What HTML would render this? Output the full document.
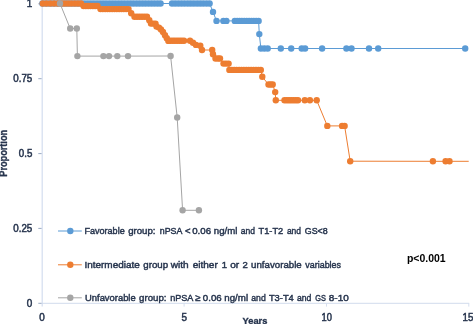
<!DOCTYPE html>
<html><head><meta charset="utf-8"><title>Kaplan-Meier</title>
<style>html,body{margin:0;padding:0;background:#fff}body{width:473px;height:324px;overflow:hidden}</style></head>
<body>
<svg width="473" height="324" viewBox="0 0 473 324" style="display:block" font-family="'Liberation Sans', Arial, sans-serif">
<rect width="473" height="324" fill="#fff"/>
<path d="M42.2 0V306.6" stroke="#d3ddef" stroke-width="1.2" fill="none"/>
<path d="M42 303.3H469.2" stroke="#ccd7ea" stroke-width="0.9" fill="none"/>
<g stroke="#8fa0bb" stroke-width="0.9" fill="none">
<path d="M38.3 3.8H41.6"/>
<path d="M38.3 78.7H41.6"/>
<path d="M38.3 153.6H41.6"/>
<path d="M38.3 228.4H41.6"/>
<path d="M38.3 303.3H41.6"/>
</g>
<g stroke="#d5deee" stroke-width="1" fill="none">
<path d="M184.1 303.3V306.6"/>
<path d="M326.5 303.3V306.6"/>
<path d="M468.8 303.3V306.6"/>
</g>
<g fill="#27354e" stroke="#27354e" stroke-width="0.5" font-size="10.0" text-anchor="end">
<text x="32.3" y="7.1" textLength="5.5" lengthAdjust="spacingAndGlyphs">1</text>
<text x="32.3" y="82.0" textLength="19.0" lengthAdjust="spacingAndGlyphs">0.75</text>
<text x="32.3" y="156.9" textLength="13.5" lengthAdjust="spacingAndGlyphs">0.5</text>
<text x="32.3" y="231.7" textLength="19.0" lengthAdjust="spacingAndGlyphs">0.25</text>
<text x="32.3" y="306.6" textLength="5.5" lengthAdjust="spacingAndGlyphs">0</text>
</g>
<g fill="#27354e" stroke="#27354e" stroke-width="0.5" font-size="10.0" text-anchor="middle">
<text x="42.0" y="320.5" textLength="5.5" lengthAdjust="spacingAndGlyphs">0</text>
<text x="184.3" y="320.5" textLength="5.5" lengthAdjust="spacingAndGlyphs">5</text>
<text x="326.7" y="320.5" textLength="10.4" lengthAdjust="spacingAndGlyphs">10</text>
<text x="468.0" y="320.5" textLength="10.8" lengthAdjust="spacingAndGlyphs">15</text>
</g>
<text x="242.6" y="323.7" font-size="9.9" font-weight="bold" stroke="#27354e" stroke-width="0.35" fill="#27354e" textLength="24.8" lengthAdjust="spacingAndGlyphs">Years</text>
<text transform="translate(7.3 176.7) rotate(-90)" font-size="10.4" font-weight="bold" stroke="#27354e" stroke-width="0.35" fill="#27354e" textLength="46.8" lengthAdjust="spacingAndGlyphs">Proportion</text>
<polyline fill="none" stroke="#5b9bd5" stroke-width="1.00" stroke-linejoin="round" points="42.4,3.5 45.4,3.5 48.5,3.5 51.5,3.5 54.5,3.5 57.6,3.5 60.6,3.5 63.6,3.5 66.6,3.5 69.7,3.5 72.7,3.5 75.7,3.5 78.8,3.5 81.8,3.5 84.8,3.5 87.9,3.5 90.9,3.5 93.9,3.5 97.0,3.5 100.0,3.5 103.0,3.5 106.0,3.5 109.1,3.5 112.1,3.5 115.1,3.5 118.2,3.5 121.2,3.5 124.2,3.5 127.3,3.5 130.3,3.5 133.3,3.5 136.4,3.5 139.4,3.5 142.4,3.5 145.4,3.5 148.5,3.5 151.5,3.5 154.5,3.5 157.6,3.5 160.6,3.5 172.0,3.5 175.1,3.5 178.3,3.5 181.4,3.5 184.5,3.5 187.7,3.5 190.8,3.5 193.9,3.5 197.1,3.5 200.2,3.5 203.3,3.5 206.5,3.5 209.6,3.5 213.0,11.9 216.5,20.9 223.4,20.9 226.4,20.9 234.8,20.9 237.2,20.9 239.6,20.9 241.9,20.9 244.3,20.9 246.7,20.9 249.1,20.9 251.5,20.9 253.8,20.9 256.2,20.9 258.6,20.9 259.3,34.1 260.9,48.5 264.3,48.5 267.7,48.5 280.8,48.5 291.2,48.5 301.7,48.5 305.1,48.5 322.1,48.5 346.4,48.5 351.5,48.5 369.0,48.5 378.2,48.5 465.2,48.5"/>
<g fill="#5b9bd5"><circle cx="42.4" cy="3.5" r="3.2"/><circle cx="45.4" cy="3.5" r="3.2"/><circle cx="48.5" cy="3.5" r="3.2"/><circle cx="51.5" cy="3.5" r="3.2"/><circle cx="54.5" cy="3.5" r="3.2"/><circle cx="57.6" cy="3.5" r="3.2"/><circle cx="60.6" cy="3.5" r="3.2"/><circle cx="63.6" cy="3.5" r="3.2"/><circle cx="66.6" cy="3.5" r="3.2"/><circle cx="69.7" cy="3.5" r="3.2"/><circle cx="72.7" cy="3.5" r="3.2"/><circle cx="75.7" cy="3.5" r="3.2"/><circle cx="78.8" cy="3.5" r="3.2"/><circle cx="81.8" cy="3.5" r="3.2"/><circle cx="84.8" cy="3.5" r="3.2"/><circle cx="87.9" cy="3.5" r="3.2"/><circle cx="90.9" cy="3.5" r="3.2"/><circle cx="93.9" cy="3.5" r="3.2"/><circle cx="97.0" cy="3.5" r="3.2"/><circle cx="100.0" cy="3.5" r="3.2"/><circle cx="103.0" cy="3.5" r="3.2"/><circle cx="106.0" cy="3.5" r="3.2"/><circle cx="109.1" cy="3.5" r="3.2"/><circle cx="112.1" cy="3.5" r="3.2"/><circle cx="115.1" cy="3.5" r="3.2"/><circle cx="118.2" cy="3.5" r="3.2"/><circle cx="121.2" cy="3.5" r="3.2"/><circle cx="124.2" cy="3.5" r="3.2"/><circle cx="127.3" cy="3.5" r="3.2"/><circle cx="130.3" cy="3.5" r="3.2"/><circle cx="133.3" cy="3.5" r="3.2"/><circle cx="136.4" cy="3.5" r="3.2"/><circle cx="139.4" cy="3.5" r="3.2"/><circle cx="142.4" cy="3.5" r="3.2"/><circle cx="145.4" cy="3.5" r="3.2"/><circle cx="148.5" cy="3.5" r="3.2"/><circle cx="151.5" cy="3.5" r="3.2"/><circle cx="154.5" cy="3.5" r="3.2"/><circle cx="157.6" cy="3.5" r="3.2"/><circle cx="160.6" cy="3.5" r="3.2"/><circle cx="172.0" cy="3.5" r="3.2"/><circle cx="175.1" cy="3.5" r="3.2"/><circle cx="178.3" cy="3.5" r="3.2"/><circle cx="181.4" cy="3.5" r="3.2"/><circle cx="184.5" cy="3.5" r="3.2"/><circle cx="187.7" cy="3.5" r="3.2"/><circle cx="190.8" cy="3.5" r="3.2"/><circle cx="193.9" cy="3.5" r="3.2"/><circle cx="197.1" cy="3.5" r="3.2"/><circle cx="200.2" cy="3.5" r="3.2"/><circle cx="203.3" cy="3.5" r="3.2"/><circle cx="206.5" cy="3.5" r="3.2"/><circle cx="209.6" cy="3.5" r="3.2"/><circle cx="213.0" cy="11.9" r="3.2"/><circle cx="216.5" cy="20.9" r="3.2"/><circle cx="223.4" cy="20.9" r="3.2"/><circle cx="226.4" cy="20.9" r="3.2"/><circle cx="234.8" cy="20.9" r="3.2"/><circle cx="237.2" cy="20.9" r="3.2"/><circle cx="239.6" cy="20.9" r="3.2"/><circle cx="241.9" cy="20.9" r="3.2"/><circle cx="244.3" cy="20.9" r="3.2"/><circle cx="246.7" cy="20.9" r="3.2"/><circle cx="249.1" cy="20.9" r="3.2"/><circle cx="251.5" cy="20.9" r="3.2"/><circle cx="253.8" cy="20.9" r="3.2"/><circle cx="256.2" cy="20.9" r="3.2"/><circle cx="258.6" cy="20.9" r="3.2"/><circle cx="259.3" cy="34.1" r="3.2"/><circle cx="260.9" cy="48.5" r="3.2"/><circle cx="264.3" cy="48.5" r="3.2"/><circle cx="267.7" cy="48.5" r="3.2"/><circle cx="280.8" cy="48.5" r="3.2"/><circle cx="291.2" cy="48.5" r="3.2"/><circle cx="301.7" cy="48.5" r="3.2"/><circle cx="305.1" cy="48.5" r="3.2"/><circle cx="322.1" cy="48.5" r="3.2"/><circle cx="346.4" cy="48.5" r="3.2"/><circle cx="351.5" cy="48.5" r="3.2"/><circle cx="369.0" cy="48.5" r="3.2"/><circle cx="378.2" cy="48.5" r="3.2"/><circle cx="465.2" cy="48.5" r="3.2"/></g>
<polyline fill="none" stroke="#ed7d31" stroke-width="1.00" stroke-linejoin="round" points="42.8,3.5 46.5,3.5 50.3,3.5 54.0,3.5 57.8,3.5 61.5,3.5 64.8,3.5 68.0,3.5 71.2,3.5 74.5,3.5 77.8,3.5 81.0,3.5 83.6,6.0 85.9,6.0 88.2,6.0 90.5,6.0 92.9,6.0 95.2,6.0 97.5,6.0 100.5,9.1 102.8,9.1 105.2,9.1 107.5,9.1 109.8,9.1 112.2,9.1 114.5,9.1 116.8,9.1 119.2,9.1 121.5,9.1 123.8,9.1 126.2,9.1 128.5,9.1 131.2,13.2 134.5,16.7 137.0,16.7 139.5,16.7 142.0,16.7 144.5,16.7 147.0,16.7 149.3,20.3 151.0,23.6 153.2,23.6 155.5,23.6 156.5,26.6 159.0,27.6 161.0,29.5 163.0,32.0 165.0,35.2 166.8,38.3 168.4,40.9 170.4,40.7 172.7,40.7 174.9,40.7 177.2,40.7 179.5,40.7 181.7,40.7 184.0,40.7 190.0,40.7 193.0,42.8 196.0,44.9 200.3,45.7 202.0,50.0 212.2,50.0 213.0,54.2 215.5,58.5 218.0,58.5 220.0,58.5 223.5,63.6 226.0,63.6 228.6,63.6 229.4,69.9 231.8,69.9 234.2,69.9 236.6,69.9 239.1,69.9 241.5,69.9 243.9,69.9 246.3,69.9 248.7,69.9 251.1,69.9 253.6,69.9 256.0,69.9 258.4,69.9 260.8,69.9 262.3,76.8 268.5,84.5 270.6,84.5 272.7,84.5 275.2,92.1 275.8,100.3 284.5,100.3 286.8,100.3 289.0,100.3 291.2,100.3 293.5,100.3 295.8,100.3 298.0,100.3 304.8,100.3 309.9,100.3 316.7,100.3 327.3,125.9 342.1,125.9 344.6,125.9 350.2,161.2 432.9,161.3 445.6,161.3 449.5,161.3 468.7,161.3"/>
<g fill="#ed7d31"><circle cx="42.8" cy="3.5" r="3.2"/><circle cx="46.5" cy="3.5" r="3.2"/><circle cx="50.3" cy="3.5" r="3.2"/><circle cx="54.0" cy="3.5" r="3.2"/><circle cx="57.8" cy="3.5" r="3.2"/><circle cx="61.5" cy="3.5" r="3.2"/><circle cx="64.8" cy="3.5" r="3.2"/><circle cx="68.0" cy="3.5" r="3.2"/><circle cx="71.2" cy="3.5" r="3.2"/><circle cx="74.5" cy="3.5" r="3.2"/><circle cx="77.8" cy="3.5" r="3.2"/><circle cx="81.0" cy="3.5" r="3.2"/><circle cx="83.6" cy="6.0" r="3.2"/><circle cx="85.9" cy="6.0" r="3.2"/><circle cx="88.2" cy="6.0" r="3.2"/><circle cx="90.5" cy="6.0" r="3.2"/><circle cx="92.9" cy="6.0" r="3.2"/><circle cx="95.2" cy="6.0" r="3.2"/><circle cx="97.5" cy="6.0" r="3.2"/><circle cx="100.5" cy="9.1" r="3.2"/><circle cx="102.8" cy="9.1" r="3.2"/><circle cx="105.2" cy="9.1" r="3.2"/><circle cx="107.5" cy="9.1" r="3.2"/><circle cx="109.8" cy="9.1" r="3.2"/><circle cx="112.2" cy="9.1" r="3.2"/><circle cx="114.5" cy="9.1" r="3.2"/><circle cx="116.8" cy="9.1" r="3.2"/><circle cx="119.2" cy="9.1" r="3.2"/><circle cx="121.5" cy="9.1" r="3.2"/><circle cx="123.8" cy="9.1" r="3.2"/><circle cx="126.2" cy="9.1" r="3.2"/><circle cx="128.5" cy="9.1" r="3.2"/><circle cx="131.2" cy="13.2" r="3.2"/><circle cx="134.5" cy="16.7" r="3.2"/><circle cx="137.0" cy="16.7" r="3.2"/><circle cx="139.5" cy="16.7" r="3.2"/><circle cx="142.0" cy="16.7" r="3.2"/><circle cx="144.5" cy="16.7" r="3.2"/><circle cx="147.0" cy="16.7" r="3.2"/><circle cx="149.3" cy="20.3" r="3.2"/><circle cx="151.0" cy="23.6" r="3.2"/><circle cx="153.2" cy="23.6" r="3.2"/><circle cx="155.5" cy="23.6" r="3.2"/><circle cx="156.5" cy="26.6" r="3.2"/><circle cx="159.0" cy="27.6" r="3.2"/><circle cx="161.0" cy="29.5" r="3.2"/><circle cx="163.0" cy="32.0" r="3.2"/><circle cx="165.0" cy="35.2" r="3.2"/><circle cx="166.8" cy="38.3" r="3.2"/><circle cx="168.4" cy="40.9" r="3.2"/><circle cx="170.4" cy="40.7" r="3.2"/><circle cx="172.7" cy="40.7" r="3.2"/><circle cx="174.9" cy="40.7" r="3.2"/><circle cx="177.2" cy="40.7" r="3.2"/><circle cx="179.5" cy="40.7" r="3.2"/><circle cx="181.7" cy="40.7" r="3.2"/><circle cx="184.0" cy="40.7" r="3.2"/><circle cx="190.0" cy="40.7" r="3.2"/><circle cx="193.0" cy="42.8" r="3.2"/><circle cx="196.0" cy="44.9" r="3.2"/><circle cx="200.3" cy="45.7" r="3.2"/><circle cx="202.0" cy="50.0" r="3.2"/><circle cx="212.2" cy="50.0" r="3.2"/><circle cx="213.0" cy="54.2" r="3.2"/><circle cx="215.5" cy="58.5" r="3.2"/><circle cx="218.0" cy="58.5" r="3.2"/><circle cx="220.0" cy="58.5" r="3.2"/><circle cx="223.5" cy="63.6" r="3.2"/><circle cx="226.0" cy="63.6" r="3.2"/><circle cx="228.6" cy="63.6" r="3.2"/><circle cx="229.4" cy="69.9" r="3.2"/><circle cx="231.8" cy="69.9" r="3.2"/><circle cx="234.2" cy="69.9" r="3.2"/><circle cx="236.6" cy="69.9" r="3.2"/><circle cx="239.1" cy="69.9" r="3.2"/><circle cx="241.5" cy="69.9" r="3.2"/><circle cx="243.9" cy="69.9" r="3.2"/><circle cx="246.3" cy="69.9" r="3.2"/><circle cx="248.7" cy="69.9" r="3.2"/><circle cx="251.1" cy="69.9" r="3.2"/><circle cx="253.6" cy="69.9" r="3.2"/><circle cx="256.0" cy="69.9" r="3.2"/><circle cx="258.4" cy="69.9" r="3.2"/><circle cx="260.8" cy="69.9" r="3.2"/><circle cx="262.3" cy="76.8" r="3.2"/><circle cx="268.5" cy="84.5" r="3.2"/><circle cx="270.6" cy="84.5" r="3.2"/><circle cx="272.7" cy="84.5" r="3.2"/><circle cx="275.2" cy="92.1" r="3.2"/><circle cx="275.8" cy="100.3" r="3.2"/><circle cx="284.5" cy="100.3" r="3.2"/><circle cx="286.8" cy="100.3" r="3.2"/><circle cx="289.0" cy="100.3" r="3.2"/><circle cx="291.2" cy="100.3" r="3.2"/><circle cx="293.5" cy="100.3" r="3.2"/><circle cx="295.8" cy="100.3" r="3.2"/><circle cx="298.0" cy="100.3" r="3.2"/><circle cx="304.8" cy="100.3" r="3.2"/><circle cx="309.9" cy="100.3" r="3.2"/><circle cx="316.7" cy="100.3" r="3.2"/><circle cx="327.3" cy="125.9" r="3.2"/><circle cx="342.1" cy="125.9" r="3.2"/><circle cx="344.6" cy="125.9" r="3.2"/><circle cx="350.2" cy="161.2" r="3.2"/><circle cx="432.9" cy="161.3" r="3.2"/><circle cx="445.6" cy="161.3" r="3.2"/><circle cx="449.5" cy="161.3" r="3.2"/></g>
<polyline fill="none" stroke="#a5a5a5" stroke-width="1.00" stroke-linejoin="round" points="60.0,3.5 70.2,28.5 76.8,28.5 77.4,56.1 103.4,56.1 109.0,56.1 117.3,56.1 128.0,56.1 170.6,56.0 177.2,117.5 182.6,210.3 198.9,210.3"/>
<g fill="#a5a5a5"><circle cx="60.0" cy="3.5" r="3.2"/><circle cx="70.2" cy="28.5" r="3.2"/><circle cx="76.8" cy="28.5" r="3.2"/><circle cx="77.4" cy="56.1" r="3.2"/><circle cx="103.4" cy="56.1" r="3.2"/><circle cx="109.0" cy="56.1" r="3.2"/><circle cx="117.3" cy="56.1" r="3.2"/><circle cx="128.0" cy="56.1" r="3.2"/><circle cx="170.6" cy="56.0" r="3.2"/><circle cx="177.2" cy="117.5" r="3.2"/><circle cx="182.6" cy="210.3" r="3.2"/><circle cx="198.9" cy="210.3" r="3.2"/></g>
<path d="M58 231.0H81.8" stroke="#5b9bd5" stroke-width="1.0"/>
<circle cx="70.3" cy="231.0" r="3.2" fill="#5b9bd5"/>
<text y="234.0" font-size="9.5" fill="#27354e" stroke="#27354e" stroke-width="0.45"><tspan x="84.4" textLength="40.3" lengthAdjust="spacingAndGlyphs">Favorable</tspan> <tspan x="128.2" textLength="27.3" lengthAdjust="spacingAndGlyphs">group:</tspan> <tspan x="159.8" textLength="22.1" lengthAdjust="spacingAndGlyphs">nPSA</tspan> <tspan x="184.9">&lt;</tspan> <tspan x="192.2" textLength="18.9" lengthAdjust="spacingAndGlyphs">0.06</tspan> <tspan x="213.8" textLength="23.5" lengthAdjust="spacingAndGlyphs">ng/ml</tspan> <tspan x="240.7" textLength="14.2" lengthAdjust="spacingAndGlyphs">and</tspan> <tspan x="258.6" textLength="24.6" lengthAdjust="spacingAndGlyphs">T1-T2</tspan> <tspan x="286.9" textLength="14.1" lengthAdjust="spacingAndGlyphs">and</tspan> <tspan x="304.8" textLength="22.9" lengthAdjust="spacingAndGlyphs">GS&lt;8</tspan></text>
<path d="M58 264.8H81.8" stroke="#ed7d31" stroke-width="1.0"/>
<circle cx="70.3" cy="264.8" r="3.2" fill="#ed7d31"/>
<text y="267.8" font-size="9.5" fill="#27354e" stroke="#27354e" stroke-width="0.45"><tspan x="84.4" textLength="55.4" lengthAdjust="spacingAndGlyphs">Intermediate</tspan> <tspan x="143.3" textLength="24.8" lengthAdjust="spacingAndGlyphs">group</tspan> <tspan x="170.8" textLength="17.9" lengthAdjust="spacingAndGlyphs">with</tspan> <tspan x="192.7" textLength="25.1" lengthAdjust="spacingAndGlyphs">either</tspan> <tspan x="221.7">1</tspan> <tspan x="230.2" textLength="9.0" lengthAdjust="spacingAndGlyphs">or</tspan> <tspan x="242.4">2</tspan> <tspan x="251.1" textLength="50.6" lengthAdjust="spacingAndGlyphs">unfavorable</tspan> <tspan x="305.3" textLength="35.7" lengthAdjust="spacingAndGlyphs">variables</tspan></text>
<path d="M58 297.8H81.8" stroke="#a5a5a5" stroke-width="1.0"/>
<circle cx="70.3" cy="297.8" r="3.2" fill="#a5a5a5"/>
<text y="300.8" font-size="9.5" fill="#27354e" stroke="#27354e" stroke-width="0.45"><tspan x="85.0" textLength="50.7" lengthAdjust="spacingAndGlyphs">Unfavorable</tspan> <tspan x="139.1" textLength="27.4" lengthAdjust="spacingAndGlyphs">group:</tspan> <tspan x="170.2" textLength="22.7" lengthAdjust="spacingAndGlyphs">nPSA</tspan> <tspan x="195.3">≥</tspan> <tspan x="202.8" textLength="18.9" lengthAdjust="spacingAndGlyphs">0.06</tspan> <tspan x="224.3" textLength="23.8" lengthAdjust="spacingAndGlyphs">ng/ml</tspan> <tspan x="251.3" textLength="14.4" lengthAdjust="spacingAndGlyphs">and</tspan> <tspan x="268.9" textLength="24.9" lengthAdjust="spacingAndGlyphs">T3-T4</tspan> <tspan x="297.0" textLength="14.4" lengthAdjust="spacingAndGlyphs">and</tspan> <tspan x="315.3" textLength="10.6" lengthAdjust="spacingAndGlyphs">GS</tspan> <tspan x="328.8" textLength="20.0" lengthAdjust="spacingAndGlyphs">8-10</tspan></text>
<text x="406.9" y="261.6" font-size="10.8" font-weight="bold" fill="#000" textLength="38.7" lengthAdjust="spacingAndGlyphs">p&lt;0.001</text>
</svg>
</body></html>
